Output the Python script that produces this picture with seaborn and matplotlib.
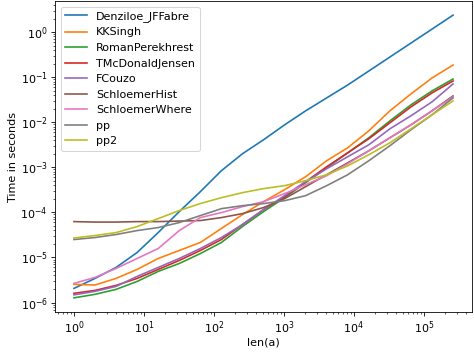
import numpy as np
import pandas as pd
import matplotlib
matplotlib.use("Agg")
import matplotlib.pyplot as plt
import seaborn as sns

n_values = [2 ** k for k in range(19)]

denziloe_jffabre = [2.06e-6, 3.43e-6, 6.01e-6, 1.29e-5, 3.57e-5, 1.04e-4, 2.88e-4, 8.41e-4,
                    2.00e-3, 4.08e-3, 8.75e-3, 1.79e-2, 3.47e-2, 6.72e-2, 0.137, 0.280, 0.571, 1.165, 2.38]
kksingh = [2.53e-6, 2.45e-6, 3.43e-6, 5.43e-6, 9.5e-6, 1.43e-5, 2.15e-5, 4.39e-5,
           8.93e-5, 1.73e-4, 3.19e-4, 6.19e-4, 1.40e-3, 2.72e-3, 6.45e-3, 1.79e-2, 4.25e-2, 9.6e-2, 0.186]
romanperekhrest = [1.27e-6, 1.52e-6, 1.96e-6, 2.94e-6, 4.90e-6, 7.36e-6, 1.22e-5, 2.15e-5,
                   4.85e-5, 1.04e-4, 2.12e-4, 4.56e-4, 9.8e-4, 2.10e-3, 4.52e-3, 1.07e-2, 2.43e-2, 4.95e-2, 9.12e-2]
tmcdonaldjensen = [1.60e-6, 1.86e-6, 2.40e-6, 3.43e-6, 5.43e-6, 8.59e-6, 1.43e-5, 2.50e-5,
                   5.37e-5, 1.15e-4, 2.24e-4, 4.80e-4, 1.03e-3, 2.10e-3, 4.30e-3, 9.7e-3, 2.19e-2, 4.47e-2, 8.24e-2]
fcouzo = [1.48e-6, 1.77e-6, 2.28e-6, 3.80e-6, 6.01e-6, 9.5e-6, 1.58e-5, 2.77e-5,
          5.37e-5, 1.15e-4, 2.35e-4, 4.80e-4, 9.3e-4, 1.72e-3, 3.16e-3, 7.14e-3, 1.39e-2, 2.83e-2, 7.08e-2]
schloemerhist = [6.25e-5, 6.1e-5, 6.1e-5, 6.25e-5, 6.25e-5, 6.42e-5, 6.59e-5, 7.67e-5,
                 9.4e-5, 1.28e-4, 2.02e-4, 3.72e-4, 6.86e-4, 1.26e-3, 2.33e-3, 4.52e-3, 8.75e-3, 1.79e-2, 3.84e-2]
schloemerwhere = [2.66e-6, 3.61e-6, 5.71e-6, 9.5e-6, 1.58e-5, 3.95e-5, 7.67e-5, 9.9e-5,
                  1.34e-4, 1.73e-4, 2.61e-4, 4.12e-4, 6.52e-4, 1.20e-3, 2.33e-3, 4.52e-3, 8.75e-3, 1.79e-2, 3.65e-2]
pp = [2.50e-5, 2.77e-5, 3.23e-5, 3.95e-5, 4.61e-5, 5.94e-5, 8.49e-5, 1.21e-4,
      1.41e-4, 1.57e-4, 1.82e-4, 2.35e-4, 3.92e-4, 6.86e-4, 1.40e-3, 3.01e-3, 6.79e-3, 1.46e-2, 3.47e-2]
pp2 = [2.70e-5, 3.07e-5, 3.57e-5, 4.85e-5, 7.29e-5, 1.10e-4, 1.57e-4, 2.12e-4,
       2.74e-4, 3.37e-4, 3.92e-4, 5.06e-4, 6.86e-4, 1.08e-3, 1.90e-3, 3.50e-3, 7.14e-3, 1.46e-2, 2.97e-2]

series_names = ["Denziloe_JFFabre", "KKSingh", "RomanPerekhrest", "TMcDonaldJensen",
                "FCouzo", "SchloemerHist", "SchloemerWhere", "pp", "pp2"]
series_values = [denziloe_jffabre, kksingh, romanperekhrest, tmcdonaldjensen,
                 fcouzo, schloemerhist, schloemerwhere, pp, pp2]

rows = []
for name, vals in zip(series_names, series_values):
    for n, v in zip(n_values, vals):
        rows.append({"len(a)": n, "Time in seconds": v, "method": name})
df = pd.DataFrame(rows)

plt.rcParams["font.size"] = 10.8

fig = plt.figure(figsize=(474 / 74, 352 / 74), dpi=74)
ax = fig.add_axes([55 / 474, 40 / 352, 417 / 474, 311 / 352])

sns.lineplot(data=df, x="len(a)", y="Time in seconds", hue="method",
             hue_order=series_names, palette="tab10", estimator=None,
             linewidth=1.6, ax=ax)
ax.set_xscale("log")
ax.set_yscale("log")
ax.set_xlabel("len(a)", labelpad=2)
ax.set_ylabel("Time in seconds", labelpad=2)

handles, labels = ax.get_legend_handles_labels()
ax.legend(handles, labels, loc="upper left", borderaxespad=0.5)

fig.savefig("out.png", dpi=74)
